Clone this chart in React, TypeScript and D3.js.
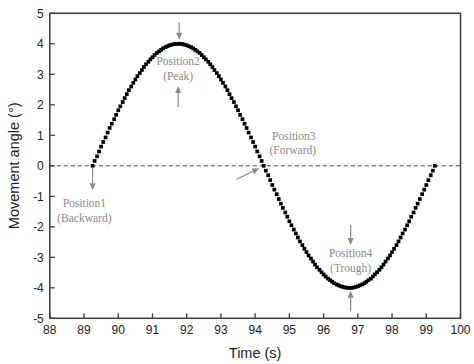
import * as d3 from 'd3';

// sample times (s)
const times = [
  89.25, 89.31, 89.38, 89.44, 89.5, 89.56, 89.63, 89.69, 89.75, 89.81, 89.88, 89.94,
  90.0, 90.06, 90.13, 90.19, 90.25, 90.31, 90.38, 90.44, 90.5, 90.56, 90.63, 90.69, 90.75, 90.81, 90.88, 90.94,
  91.0, 91.06, 91.13, 91.19, 91.25, 91.31, 91.38, 91.44, 91.5, 91.56, 91.63, 91.69, 91.75, 91.81, 91.88, 91.94,
  92.0, 92.06, 92.13, 92.19, 92.25, 92.31, 92.38, 92.44, 92.5, 92.56, 92.63, 92.69, 92.75, 92.81, 92.88, 92.94,
  93.0, 93.06, 93.13, 93.19, 93.25, 93.31, 93.38, 93.44, 93.5, 93.56, 93.63, 93.69, 93.75, 93.81, 93.88, 93.94,
  94.0, 94.06, 94.13, 94.19, 94.25, 94.31, 94.38, 94.44, 94.5, 94.56, 94.63, 94.69, 94.75, 94.81, 94.88, 94.94,
  95.0, 95.06, 95.13, 95.19, 95.25, 95.31, 95.38, 95.44, 95.5, 95.56, 95.63, 95.69, 95.75, 95.81, 95.88, 95.94,
  96.0, 96.06, 96.13, 96.19, 96.25, 96.31, 96.38, 96.44, 96.5, 96.56, 96.63, 96.69, 96.75, 96.81, 96.88, 96.94,
  97.0, 97.06, 97.13, 97.19, 97.25, 97.31, 97.38, 97.44, 97.5, 97.56, 97.63, 97.69, 97.75, 97.81, 97.88, 97.94,
  98.0, 98.06, 98.13, 98.19, 98.25, 98.31, 98.38, 98.44, 98.5, 98.56, 98.63, 98.69, 98.75, 98.81, 98.88, 98.94,
  99.0, 99.06, 99.13, 99.19, 99.25,
];

// movement angle (deg)
const angles = [
  0, 0.16, 0.31, 0.47, 0.63, 0.78, 0.93, 1.09, 1.24, 1.38,
  1.53, 1.67, 1.82, 1.95, 2.09, 2.22, 2.35, 2.48, 2.6, 2.72,
  2.83, 2.94, 3.04, 3.14, 3.24, 3.33, 3.41, 3.49, 3.56, 3.63,
  3.7, 3.75, 3.8, 3.85, 3.89, 3.92, 3.95, 3.97, 3.99, 4.0,
  4.0,
  4.0, 3.99, 3.97, 3.95, 3.92, 3.89, 3.85, 3.8, 3.75, 3.7,
  3.63, 3.56, 3.49, 3.41, 3.33, 3.24, 3.14, 3.04, 2.94, 2.83,
  2.72, 2.6, 2.48, 2.35, 2.22, 2.09, 1.95, 1.82, 1.67, 1.53,
  1.38, 1.24, 1.09, 0.93, 0.78, 0.63, 0.47, 0.31, 0.16, 0,
  -0.16, -0.31, -0.47, -0.63, -0.78, -0.93, -1.09, -1.24, -1.38, -1.53,
  -1.67, -1.82, -1.95, -2.09, -2.22, -2.35, -2.48, -2.6, -2.72, -2.83,
  -2.94, -3.04, -3.14, -3.24, -3.33, -3.41, -3.49, -3.56, -3.63, -3.7,
  -3.75, -3.8, -3.85, -3.89, -3.92, -3.95, -3.97, -3.99, -4.0, -4.0,
  -4.0, -3.99, -3.97, -3.95, -3.92, -3.89, -3.85, -3.8, -3.75, -3.7,
  -3.63, -3.56, -3.49, -3.41, -3.33, -3.24, -3.14, -3.04, -2.94, -2.83,
  -2.72, -2.6, -2.48, -2.35, -2.22, -2.09, -1.95, -1.82, -1.67, -1.53,
  -1.38, -1.24, -1.09, -0.93, -0.78, -0.63, -0.47, -0.31, -0.16, 0,
];

const xTicks = [88, 89, 90, 91, 92, 93, 94, 95, 96, 97, 98, 99, 100];
const yTicks = [-5, -4, -3, -2, -1, 0, 1, 2, 3, 4, 5];

// annotation labels, in data coordinates
const labels = [
  { t: 89.01, a: -1.35, text: 'Position1' },
  { t: 89.01, a: -1.83, text: '(Backward)' },
  { t: 91.75, a: 3.3, text: 'Position2' },
  { t: 91.75, a: 2.81, text: '(Peak)' },
  { t: 95.13, a: 0.85, text: 'Position3' },
  { t: 95.1, a: 0.39, text: '(Forward)' },
  { t: 96.79, a: -2.98, text: 'Position4' },
  { t: 96.79, a: -3.47, text: '(Trough)' },
];

// arrows: from (t0,a0) to tip (t1,a1)
const arrows = [
  { t0: 89.25, a0: -0.07, t1: 89.25, a1: -0.8 },
  { t0: 91.78, a0: 4.71, t1: 91.78, a1: 4.13 },
  { t0: 91.75, a0: 1.93, t1: 91.75, a1: 2.62 },
  { t0: 93.46, a0: -0.44, t1: 94.12, a1: -0.08 },
  { t0: 96.79, a0: -1.94, t1: 96.79, a1: -2.6 },
  { t0: 96.79, a0: -4.78, t1: 96.79, a1: -4.1 },
];

const W = 474;
const H = 364;
const left = 49.8;
const right = 460.5;
const top = 13.3;
const bottom = 318.3;

export default function App() {
  const x = d3.scaleLinear().domain([88, 100]).range([left, right]);
  const y = d3.scaleLinear().domain([-5, 5]).range([bottom, top]);
  const axisColor = '#3a3a3a';
  const annColor = '#8a8a8a';
  const sz = 3.7;

  return (
    <svg width={W} height={H} style={{ position: 'absolute', left: 0, top: 0 }}>
      <rect width={W} height={H} fill="#fff" />
      {/* zero reference */}
      <line x1={left} x2={right} y1={y(0)} y2={y(0)} stroke="#444" strokeWidth={1} strokeDasharray="4,3" />

      {/* markers */}
      <g fill="#000">
        {angles.map((a, i) => (
          <rect key={i} x={x(times[i]) - sz / 2} y={y(a) - sz / 2} width={sz} height={sz} />
        ))}
      </g>

      {/* frame */}
      <rect x={left} y={top} width={right - left} height={bottom - top} fill="none" stroke={axisColor} strokeWidth={1.5} />

      <g fontFamily="'Liberation Sans', Arial, sans-serif" fontSize={12} fill="#222">
        {xTicks.map(t => (
          <g key={t}>
            <line x1={x(t)} x2={x(t)} y1={bottom} y2={bottom - 5} stroke={axisColor} strokeWidth={1.3} />
            <text x={x(t)} y={bottom + 16} textAnchor="middle">{t}</text>
          </g>
        ))}
        {yTicks.map(t => (
          <g key={t}>
            <line x1={left} x2={left + 5} y1={y(t)} y2={y(t)} stroke={axisColor} strokeWidth={1.3} />
            <text x={left - 6} y={y(t) + 4.3} textAnchor="end">{t}</text>
          </g>
        ))}
        <text x={(left + right) / 2} y={358} textAnchor="middle" fontSize={14.5}>Time (s)</text>
        <text transform={`translate(18.5,${(top + bottom) / 2}) rotate(-90)`} textAnchor="middle" fontSize={14.5}>
          Movement angle (°)
        </text>
      </g>

      {/* annotations */}
      <g fontFamily="'Liberation Serif', 'Times New Roman', serif" fontSize={11.5} fill={annColor}>
        {labels.map((l, i) => (
          <text key={i} x={x(l.t)} y={y(l.a)} textAnchor="middle">{l.text}</text>
        ))}
      </g>
      <g stroke={annColor} fill={annColor}>
        {arrows.map((ar, i) => {
          const x0 = x(ar.t0), y0 = y(ar.a0), x1 = x(ar.t1), y1 = y(ar.a1);
          const ang = Math.atan2(y1 - y0, x1 - x0);
          const hl = 7, hw = 3;
          const bx = x1 - hl * Math.cos(ang), by = y1 - hl * Math.sin(ang);
          const px = -Math.sin(ang) * hw, py = Math.cos(ang) * hw;
          return (
            <g key={i}>
              <line x1={x0} y1={y0} x2={bx} y2={by} strokeWidth={1.2} />
              <path d={`M${x1},${y1}L${bx + px},${by + py}L${bx - px},${by - py}Z`} stroke="none" />
            </g>
          );
        })}
      </g>
    </svg>
  );
}
